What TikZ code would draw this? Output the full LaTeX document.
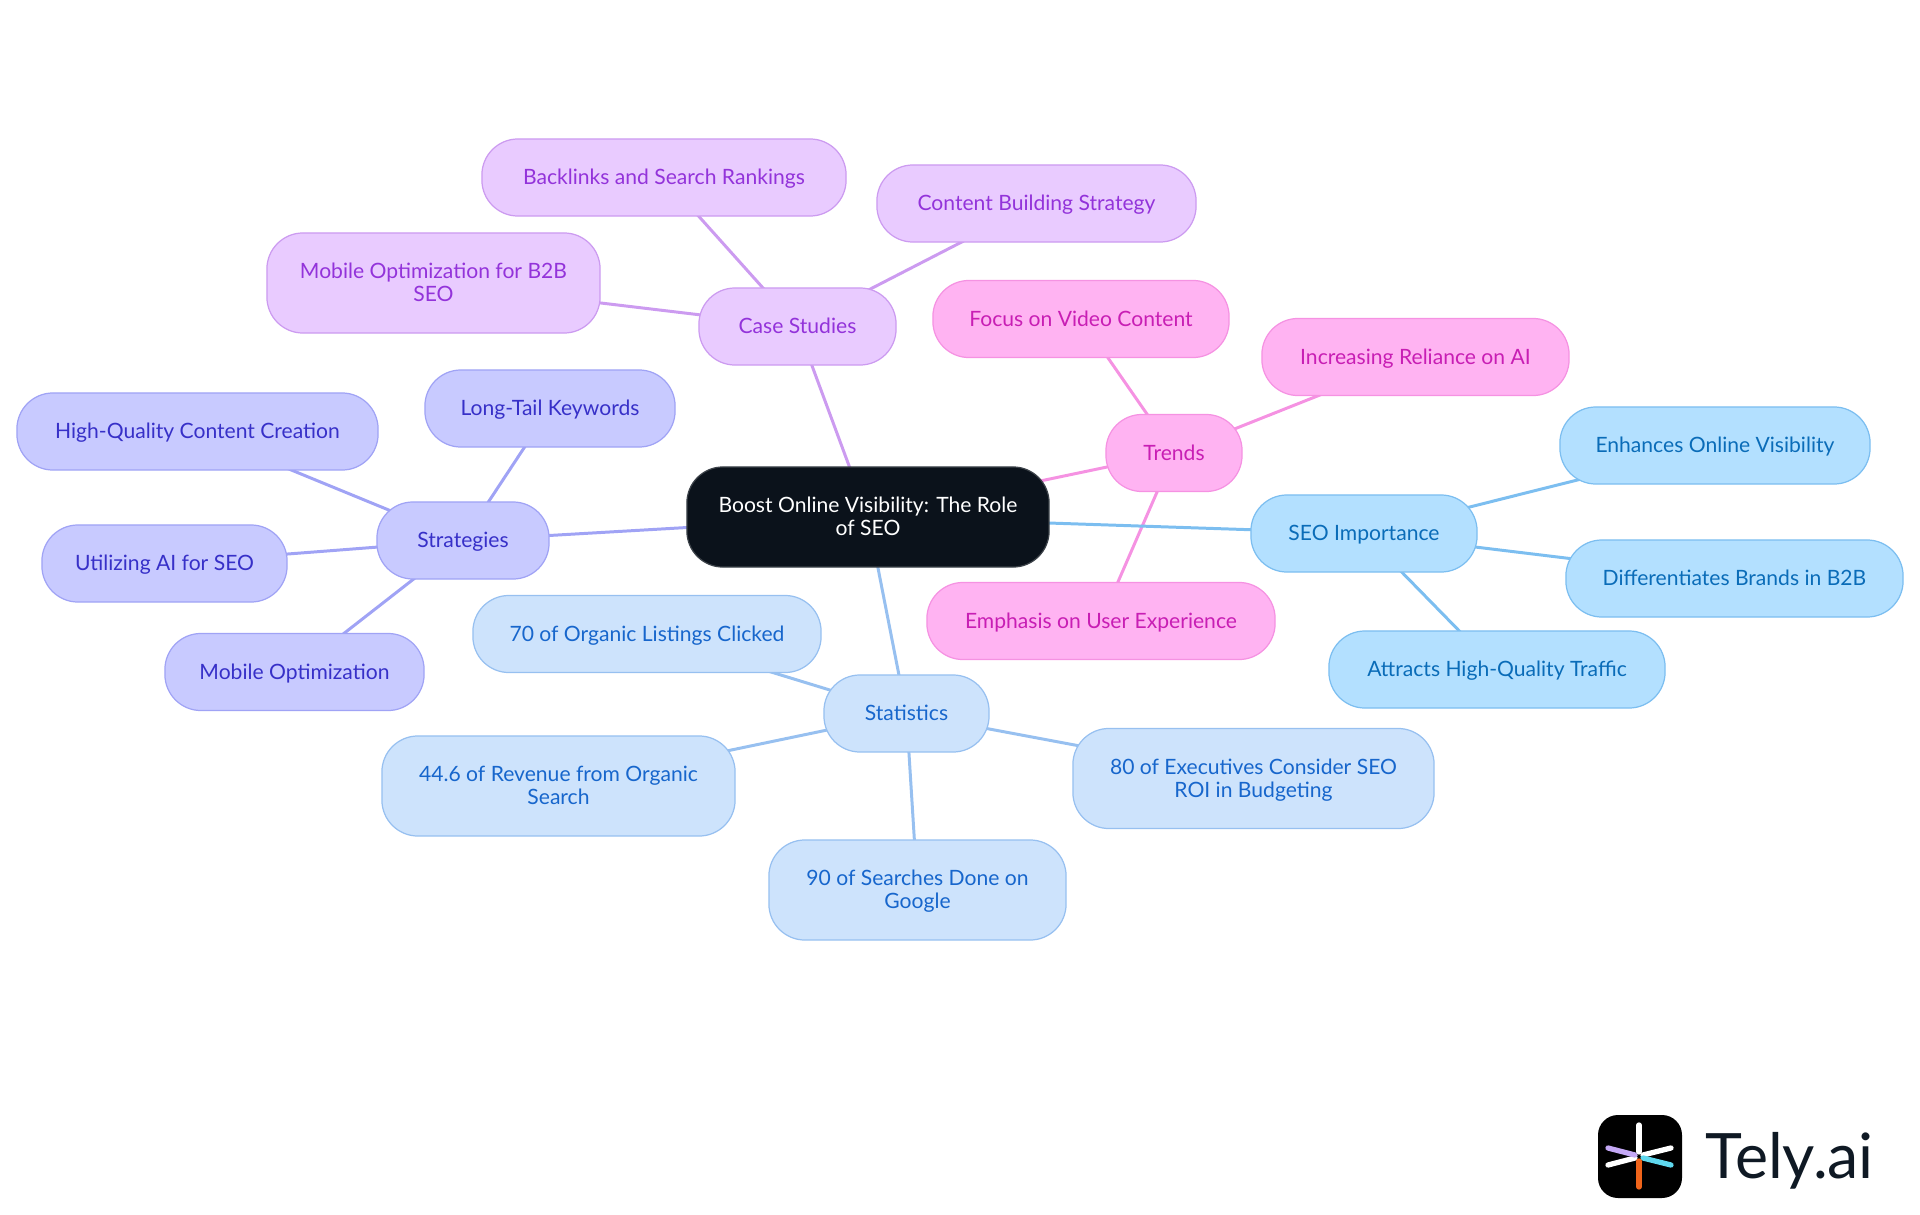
\documentclass[tikz,border=0pt]{standalone}
\usepackage{fontspec}
\setmainfont{Lato}
\usetikzlibrary{backgrounds}
\definecolor{rootDark}{HTML}{0B121B}
\definecolor{rootEdge}{HTML}{3C4249}
\definecolor{stratFill}{HTML}{C8CAFF}
\definecolor{stratLine}{HTML}{A0A3F5}
\definecolor{stratText}{HTML}{3730C8}
\definecolor{caseFill}{HTML}{E9CBFF}
\definecolor{caseLine}{HTML}{CC9BF0}
\definecolor{caseText}{HTML}{9333DA}
\definecolor{trendFill}{HTML}{FFB3F2}
\definecolor{trendLine}{HTML}{F592E2}
\definecolor{trendText}{HTML}{C81EB4}
\definecolor{seoFill}{HTML}{B3E0FF}
\definecolor{seoLine}{HTML}{7CBEF0}
\definecolor{seoText}{HTML}{0A6CB8}
\definecolor{statFill}{HTML}{CDE3FC}
\definecolor{statLine}{HTML}{97C0F0}
\definecolor{statText}{HTML}{1766CC}
\definecolor{logoInk}{HTML}{0F1924}
\definecolor{logoPurple}{HTML}{C4A8F5}
\definecolor{logoCyan}{HTML}{5FD8EE}
\definecolor{logoOrange}{HTML}{F0641A}
\tikzset{
  boxBase/.style={rectangle, rounded corners=0.36cm, line width=0.35pt, align=center,
                  inner sep=0pt, minimum height=0.77cm, text height=5.3pt, text depth=1.1pt,
                  font=\fontsize{6}{6.6}\selectfont},
  twoLine/.style={minimum height=1cm, text height=11.9pt},
  boxRoot/.style={boxBase, draw=rootEdge, fill=rootDark, text=white},
  boxStrat/.style={boxBase, draw=stratLine, fill=stratFill, text=stratText},
  boxCase/.style={boxBase, draw=caseLine, fill=caseFill, text=caseText},
  boxTrend/.style={boxBase, draw=trendLine, fill=trendFill, text=trendText},
  boxSeo/.style={boxBase, draw=seoLine, fill=seoFill, text=seoText},
  boxStat/.style={boxBase, draw=statLine, fill=statFill, text=statText},
  lineStrat/.style={draw=stratLine, line width=0.85pt},
  lineCase/.style={draw=caseLine, line width=0.85pt},
  lineTrend/.style={draw=trendLine, line width=0.85pt},
  lineSeo/.style={draw=seoLine, line width=0.85pt},
  lineStat/.style={draw=statLine, line width=0.85pt},
  spoke/.style={line width=1.5pt, line cap=round},
}
\begin{document}
\begin{tikzpicture}[x=0.01cm, y=-0.01cm]
  \useasboundingbox (0,0) rectangle (1920,1215);
  \node[boxRoot, twoLine, minimum width=3.62cm] (root) at (868,517) {Boost Online Visibility: The Role\\of SEO};

  % strategies
  \node[boxStrat, minimum width=1.72cm] (strat) at (463,540.5) {Strategies};
  \node[boxStrat, minimum width=2.5cm] (tail) at (550,408.5) {Long-Tail Keywords};
  \node[boxStrat, minimum width=3.61cm] (quality) at (197.5,431.5) {High-Quality Content Creation};
  \node[boxStrat, minimum width=2.45cm] (aiseo) at (164.5,563.5) {Utilizing AI for SEO};
  \node[boxStrat, minimum width=2.59cm] (mobile) at (294.5,672) {Mobile Optimization};

  % case studies
  \node[boxCase, minimum width=1.97cm] (case) at (797.5,326.5) {Case Studies};
  \node[boxCase, minimum width=3.64cm] (backlinks) at (664,177.5) {Backlinks and Search Rankings};
  \node[boxCase, minimum width=3.19cm] (content) at (1036.5,203.5) {Content Building Strategy};
  \node[boxCase, twoLine, minimum width=3.33cm] (mobileb) at (433.5,283) {Mobile Optimization for B2B\\SEO};

  % trends
  \node[boxTrend, minimum width=1.36cm] (trends) at (1174,453) {Trends};
  \node[boxTrend, minimum width=2.96cm] (video) at (1081,319) {Focus on Video Content};
  \node[boxTrend, minimum width=3.07cm] (reliance) at (1415.5,357) {Increasing Reliance on AI};
  \node[boxTrend, minimum width=3.48cm] (ux) at (1101,621) {Emphasis on User Experience};

  % seo importance
  \node[boxSeo, minimum width=2.26cm] (seo) at (1364,533.5) {SEO Importance};
  \node[boxSeo, minimum width=3.1cm] (enhances) at (1715,445.5) {Enhances Online Visibility};
  \node[boxSeo, minimum width=3.37cm] (brands) at (1734.5,578.5) {Differentiates Brands in B2B};
  \node[boxSeo, minimum width=3.36cm] (traffic) at (1497,669.5) {Attracts High-Quality Traffic};

  % statistics
  \node[boxStat, minimum width=1.65cm] (stats) at (906.5,713.5) {Statistics};
  \node[boxStat, minimum width=3.48cm] (listings) at (647,634) {70 of Organic Listings Clicked};
  \node[boxStat, twoLine, minimum width=3.53cm] (revenue) at (558.5,786) {44.6 of Revenue from Organic\\Search};
  \node[boxStat, twoLine, minimum width=2.97cm] (google) at (917.5,890) {90 of Searches Done on\\Google};
  \node[boxStat, twoLine, minimum width=3.61cm] (budget) at (1253.5,778.5) {80 of Executives Consider SEO\\ROI in Budgeting};

  \begin{scope}[on background layer]
    \draw[lineStrat] (root.center) -- (strat.center);
    \foreach \leaf in {tail, quality, aiseo, mobile}
      \draw[lineStrat] (strat.center) -- (\leaf.center);
    \draw[lineCase] (root.center) -- (case.center);
    \foreach \leaf in {backlinks, content, mobileb}
      \draw[lineCase] (case.center) -- (\leaf.center);
    \draw[lineTrend] (root.center) -- (trends.center);
    \foreach \leaf in {video, reliance, ux}
      \draw[lineTrend] (trends.center) -- (\leaf.center);
    \draw[lineSeo] (root.center) -- (seo.center);
    \foreach \leaf in {enhances, brands, traffic}
      \draw[lineSeo] (seo.center) -- (\leaf.center);
    \draw[lineStat] (root.center) -- (stats.center);
    \foreach \leaf in {listings, revenue, google, budget}
      \draw[lineStat] (stats.center) -- (\leaf.center);
  \end{scope}

  % logo
  \fill[black, rounded corners=0.2cm] (1598,1115) rectangle (1682,1198);
  \draw[spoke, white] (1639,1152) -- (1639,1125);
  \draw[spoke, white] (1643,1155) -- (1671,1148);
  \draw[spoke, white] (1635,1158) -- (1608,1165);
  \draw[spoke, logoPurple] (1635,1155) -- (1608,1148);
  \draw[spoke, logoCyan] (1643,1158) -- (1671,1165);
  \draw[spoke, logoOrange] (1639,1161) -- (1639,1187);
  \node[anchor=base west, inner sep=0pt, text=logoInk, font=\fontsize{17.8}{18}\selectfont] (brand) at (1705,1178) {Tely.ai};
\end{tikzpicture}
\end{document}
